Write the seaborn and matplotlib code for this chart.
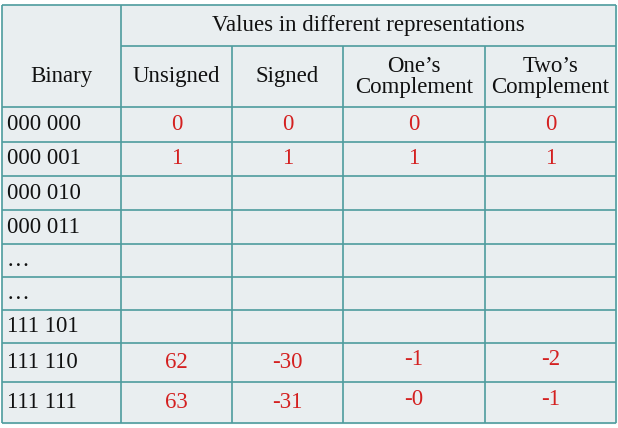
import matplotlib
matplotlib.use("Agg")
import matplotlib.pyplot as plt
import seaborn as sns

sns.set_theme(style="white")
plt.rcParams['font.family'] = ['Liberation Serif', 'DejaVu Serif']

group_header = "Values in different representations"
columns = ["Binary", "Unsigned", "Signed", "One’s\nComplement", "Two’s\nComplement"]
binary = ["000 000", "000 001", "000 010", "000 011", "…", "…", "111 101", "111 110", "111 111"]
unsigned = ["0", "1", "", "", "", "", "", "62", "63"]
signed = ["0", "1", "", "", "", "", "", "-30", "-31"]
ones = ["0", "1", "", "", "", "", "", "-1", "-0"]
twos = ["0", "1", "", "", "", "", "", "-2", "-1"]

# layout (pixels)
xs = [2, 121, 232, 343, 485, 616]
ys = [5, 46, 107, 142, 176, 210, 244, 277, 310, 343, 382, 423]
bg = "#e9eef0"
line = "#4e9c9e"
red = "#d42020"

fig = plt.figure(figsize=(6.18, 4.28), dpi=100)
ax = fig.add_axes([0, 0, 1, 1])
ax.set_xlim(0, 618)
ax.set_ylim(428, 0)
ax.axis("off")
ax.add_patch(plt.Rectangle((xs[0], ys[0]), xs[-1]-xs[0], ys[-1]-ys[0], color=bg, zorder=0))

lw = 1.2
ax.hlines(ys[0], xs[0], xs[-1], color=line, lw=lw)
ax.hlines(ys[1], xs[1], xs[-1], color=line, lw=lw)
ax.hlines(ys[2:], xs[0], xs[-1], color=line, lw=lw)
ax.vlines([xs[0], xs[1], xs[-1]], ys[0], ys[-1], color=line, lw=lw)
ax.vlines(xs[2:-1], ys[1], ys[-1], color=line, lw=lw)

fs = 16.5
ax.text((xs[1]+xs[-1])/2, (ys[0]+ys[1])/2, group_header, ha="center", va="center", fontsize=fs, color="#111")
for i, c in enumerate(columns):
    ax.text((xs[i]+xs[i+1])/2, (ys[1]+ys[2])/2, c, ha="center", va="center",
            fontsize=fs, color="#111", linespacing=1.0)

value_cols = [unsigned, signed, ones, twos]
for r, b in enumerate(binary):
    yc = (ys[r+2] + ys[r+3]) / 2
    ax.text(xs[0] + 5, yc, b, ha="left", va="center", fontsize=fs, color="#111")
    for j, col in enumerate(value_cols):
        off = -3 if (j >= 2 and r >= 7) else 0
        ax.text((xs[j+1]+xs[j+2])/2, yc + off, col[r], ha="center", va="center", fontsize=fs, color=red)

fig.savefig("out.png", dpi=100)
